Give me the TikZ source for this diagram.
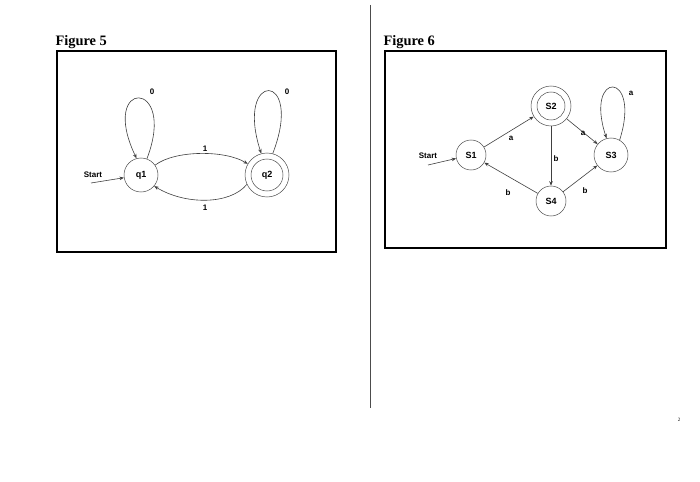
\documentclass[tikz,border=0pt]{standalone}
\usepackage{fontspec}
\setmainfont{Liberation Serif}
\newfontfamily\lab{Liberation Sans}
\usetikzlibrary{arrows.meta}
\begin{document}
\begin{tikzpicture}[x=1pt,y=-1pt,
 st/.style={circle,draw=black!70,line width=0.5pt,font=\lab\bfseries\small,inner sep=0pt},
 tr/.style={-{Stealth[length=4.5pt,width=3.5pt]},line width=0.6pt,draw=black!75},
 lb/.style={font=\lab\bfseries\footnotesize,inner sep=1pt},
 frame/.style={draw,line width=1.8pt},
 ttl/.style={font=\bfseries\Large,anchor=west}]
\useasboundingbox[fill=white] (0,0) rectangle (700,481);
\draw[line width=0.6pt,black!70] (370,5) -- (370,408);
\node[font=\tiny] (pg) at (679,420) {2};
% Figure 5
\node[ttl] (t5) at (52,42) {Figure 5};
\draw[frame] (57,51) rectangle (336,252);
\node[st,minimum size=34pt] (q1) at (141,175) {q1};
\node[st,minimum size=44pt] (q2) at (267,175) {};
\node[st,minimum size=32pt] (q2i) at (267,175) {q2};
\node[lb] (s5) at (93,175) {Start};
\coordinate (s5a) at (91,183);
\draw[tr] (s5a) -- (q1);
\draw[tr] (q1.70) .. controls (178,78) and (98,78) .. (q1.105);
\node[lb] (l0a) at (152,92) {0};
\draw[tr] (q2.75) .. controls (305,70) and (234,70) .. (q2.105);
\node[lb] (l0b) at (287,92) {0};
\draw[tr] (q1.35) .. controls (175,150) and (225,150) .. (q2.150);
\node[lb] (l1a) at (205,149) {1};
\draw[tr] (q2.205) .. controls (230,205) and (185,205) .. (q1.-40);
\node[lb] (l1b) at (205,208) {1};
% Figure 6
\node[ttl] (t6) at (380,42) {Figure 6};
\draw[frame] (385,51) rectangle (666,248);
\node[st,minimum size=30pt] (S1) at (471,155) {S1};
\node[st,minimum size=40pt] (S2) at (551,106) {};
\node[st,minimum size=28pt] (S2i) at (551,106) {S2};
\node[st,minimum size=34pt] (S3) at (611,155) {S3};
\node[st,minimum size=30pt] (S4) at (551,201) {S4};
\node[lb] (s6) at (428,156) {Start};
\coordinate (s6a) at (428,165);
\draw[tr] (s6a) -- (S1);
\draw[tr] (S1) -- (S2);
\node[lb] (la1) at (511,138) {a};
\draw[tr] (S2) -- (S3);
\node[lb] (la2) at (583,133) {a};
\draw[tr] (S2) -- (S4);
\node[lb] (lb1) at (556,159) {b};
\draw[tr] (S4) -- (S3);
\node[lb] (lb3) at (585,191) {b};
\draw[tr] (S4) -- (S1);
\node[lb] (lb2) at (508,193) {b};
\draw[tr] (S3.60) .. controls (642,70) and (584,70) .. (S3.105);
\node[lb] (la3) at (631,93) {a};
\end{tikzpicture}
\end{document}
